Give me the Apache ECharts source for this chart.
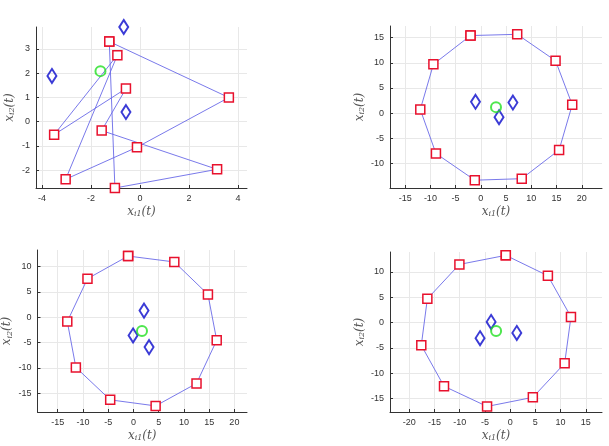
<!DOCTYPE html>
<html><head><meta charset="utf-8">
<script src="https://cdn.jsdelivr.net/npm/echarts@6/dist/echarts.min.js"></script>
<style>html,body{margin:0;background:#fff}#c{width:609px;height:446px}</style>
</head><body><div id="c"></div>
<script>
// Panel 1 (path order)
const sq1 = [[-1.25,3.3],[3.63,0.99],[-0.12,-1.06],[-3.03,-2.38],[-0.92,2.74],[-3.5,-0.54],[-0.57,1.36],[-1.56,-0.37],[3.15,-1.97],[-1.02,-2.74]];
const dia1 = [[-0.66,3.9],[-3.59,1.88],[-0.57,0.39]];
const cir1 = [[-1.61,2.08]];
// Panel 2
const sq2 = [[-2.05,15.4],[7.2,15.65],[14.8,10.4],[18.1,1.66],[15.5,-7.3],[8.1,-13],[-1.2,-13.3],[-8.9,-8],[-12,0.73],[-9.4,9.7]];
const dia2 = [[-1.06,2.25],[6.35,2.1],[3.6,-0.8]];
const cir2 = [[3.0,1.2]];
// Panel 3
const sq3 = [[-1.05,12.07],[8.1,10.9],[14.76,4.5],[16.5,-4.55],[12.5,-13.06],[4.4,-17.5],[-4.6,-16.3],[-11.4,-9.9],[-13.1,-0.86],[-9.1,7.6]];
const dia3 = [[2.1,1.3],[-0.07,-3.6],[3.1,-5.9]];
const cir3 = [[1.7,-2.7]];
// Panel 4
const sq4 = [[-0.86,13.3],[7.48,9.26],[12.05,1.12],[10.8,-8.07],[4.5,-14.8],[-4.57,-16.6],[-13.1,-12.6],[-17.6,-4.5],[-16.4,4.7],[-10.05,11.5]];
const dia4 = [[-3.77,0.13],[-5.96,-3.1],[1.32,-2.05]];
const cir4 = [[-2.78,-1.65]];
// Tick labels
const xt1=[-4,-2,0,2,4], yt1=[-2,-1,0,1,2,3];
const xt2=[-15,-10,-5,0,5,10,15,20], yt2=[-10,-5,0,5,10,15];
const xt3=[-15,-10,-5,0,5,10,15,20], yt3=[-15,-10,-5,0,5,10];
const xt4=[-20,-15,-10,-5,0,5,10,15], yt4=[-15,-10,-5,0,5,10];
const ranges=[[-4.24,4.37,-2.74,3.9],[-18,24,-14.85,17.3],[-19,22.5,-18.7,13.26],[-23.8,18.2,-17.7,13.96]];
const grids=[{left:36,top:27,width:211,height:161},{left:390,top:26,width:212,height:162},{left:35,top:250,width:212,height:162},{left:390,top:252,width:212,height:160}];
const panels=[[sq1,dia1,cir1,xt1,yt1],[sq2,dia2,cir2,xt2,yt2],[sq3,dia3,cir3,xt3,yt3],[sq4,dia4,cir4,xt4,yt4]];
const rich={i:{fontFamily:'DejaVu Serif',fontStyle:'italic',fontSize:12,color:'#555'},s:{fontFamily:'DejaVu Serif',fontStyle:'italic',fontSize:8,color:'#555',verticalAlign:'bottom',padding:[5,0,0,0]}};
const xAxis=[],yAxis=[],series=[];
panels.forEach((p,k)=>{
  const r=ranges[k];
  const common={type:'value',axisLine:{show:true,onZero:false,lineStyle:{color:'#333',width:1}},
    splitLine:{show:true,lineStyle:{color:'#e8e8e8',width:1}},axisLabel:{color:'#333',fontSize:9,fontFamily:'Liberation Sans'}};
  xAxis.push(Object.assign({},common,{gridIndex:k,min:r[0],max:r[1],
    axisTick:{show:true,inside:true,length:3,customValues:p[3],lineStyle:{color:'#333'}},
    axisLabel:Object.assign({},common.axisLabel,{customValues:p[3],margin:6}),
    name:'{i|x}{s|i1}{i|(t)}',nameLocation:'middle',nameGap:17,nameTextStyle:{rich}}));
  yAxis.push(Object.assign({},common,{gridIndex:k,min:r[2],max:r[3],
    axisTick:{show:true,inside:true,length:3,customValues:p[4],lineStyle:{color:'#333'}},
    axisLabel:Object.assign({},common.axisLabel,{customValues:p[4],margin:6}),
    name:'{i|x}{s|i2}{i|(t)}',nameLocation:'middle',nameGap:k==0?20:24,nameRotate:90,nameTextStyle:{rich}}));
  series.push({type:'line',xAxisIndex:k,yAxisIndex:k,data:p[0].concat([p[0][0]]),symbol:'rect',symbolSize:9,
    showAllSymbol:true,clip:false,lineStyle:{color:'#6a6ae8',width:0.9},
    itemStyle:{color:'#fff',borderColor:'#e8112d',borderWidth:1.5},z:3});
  series.push({type:'scatter',xAxisIndex:k,yAxisIndex:k,data:p[1],symbol:'diamond',symbolSize:[9,14],clip:false,
    itemStyle:{color:'rgba(0,0,0,0)',borderColor:'#0a0acc',borderWidth:2},z:4});
  series.push({type:'scatter',xAxisIndex:k,yAxisIndex:k,data:p[2],symbol:'circle',symbolSize:10,clip:false,
    itemStyle:{color:'rgba(0,0,0,0)',borderColor:'#22e022',borderWidth:2},z:4});
});
const chart=echarts.init(document.getElementById('c'));
chart.setOption({animation:false,grid:grids,xAxis,yAxis,series});
</script></body></html>
